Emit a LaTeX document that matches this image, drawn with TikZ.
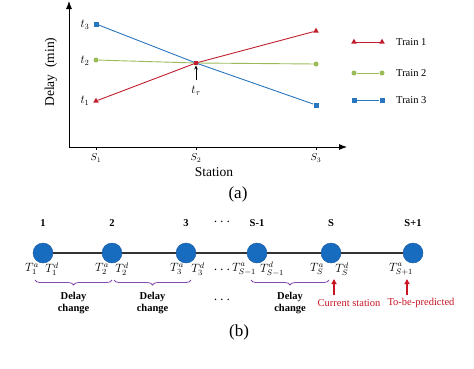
\documentclass[tikz,border=0pt]{standalone}
\usepackage{fontspec}
\setmainfont{Liberation Serif}
\usetikzlibrary{arrows.meta,shapes.geometric,decorations.pathreplacing}
\definecolor{trainRed}{RGB}{192,30,45}
\definecolor{trainGreen}{RGB}{155,187,89}
\definecolor{trainBlue}{RGB}{40,118,190}
\definecolor{stationBlue}{RGB}{24,108,192}
\definecolor{bracePurple}{RGB}{130,75,175}
\definecolor{noteRed}{RGB}{200,20,35}
\begin{document}
\begin{tikzpicture}
[x=1pt,y=-1pt,
  axisDecorate/.style={-{Latex[length=8pt,width=6pt]},line width=0.8pt},
  tickDecorate/.style={line width=0.6pt},
  redLine/.style={trainRed,line width=0.9pt},
  greenLine/.style={trainGreen,line width=0.9pt},
  blueLine/.style={trainBlue,line width=0.9pt},
  redMark/.style={shape=regular polygon,regular polygon sides=3,fill=trainRed,inner sep=0pt,minimum size=6.5pt},
  greenMark/.style={shape=circle,fill=trainGreen,inner sep=0pt,minimum size=5pt},
  blueMark/.style={shape=rectangle,fill=trainBlue,inner sep=0pt,minimum size=5pt},
  crossMark/.style={shape=rectangle,fill=trainRed,inner sep=0pt,minimum size=4.5pt},
  smallText/.style={font=\fontsize{10}{12}\selectfont,inner sep=0pt},
  axisText/.style={font=\fontsize{13.5}{15}\selectfont,inner sep=0pt},
  legendText/.style={font=\fontsize{10.5}{12}\selectfont,anchor=west,inner sep=0pt},
  partText/.style={font=\fontsize{17}{19}\selectfont,inner sep=0pt},
  nodeDecorate/.style={shape=circle,fill=stationBlue,draw=stationBlue!80!black,line width=0.4pt,minimum size=20pt,inner sep=0pt},
  numDecorate/.style={font=\fontsize{10.5}{12}\bfseries\selectfont,inner sep=0pt},
  timeDecorate/.style={font=\fontsize{12}{13}\selectfont,inner sep=0pt},
  lineDecorate/.style={-,line width=1.1pt,black!80},
  braceDecorate/.style={decorate,decoration={brace,mirror,amplitude=5pt},bracePurple,line width=0.8pt},
  changeDecorate/.style={font=\fontsize{10.5}{12}\bfseries\selectfont,align=center,inner sep=0pt},
  noteDecorate/.style={font=\fontsize{10.5}{12}\selectfont,noteRed,inner sep=0pt},
  noteArrow/.style={-{Triangle[length=5pt,width=5pt]},noteRed,line width=1.2pt},
  dotsDecorate/.style={font=\fontsize{14}{15}\bfseries\selectfont,inner sep=0pt}]
\useasboundingbox (0,0) rectangle (474,368);
%% part (a): axes
\coordinate (origin) at (69,147);
\coordinate (yEnd) at (69,1);
\coordinate (xEnd) at (347,147);
\draw[axisDecorate] (origin) -- (yEnd);
\draw[axisDecorate] (origin) -- (xEnd);
\foreach \nodename/\x/\lbl in {s1/96/1, s2/196/2, s3/316/3}
{
  \coordinate (\nodename) at (\x,147);
  \draw[tickDecorate] (\nodename) -- ++(0,3);
  \node (\nodename-lbl) at (\x,158) [smallText] {$S_{\lbl}$};
}
\node (station) at (214,172) [axisText] {Station};
\node (delay) at (51,72) [axisText,rotate=90] {Delay\ \ (min)};
%% delays at the first station
\foreach \nodename/\y/\lbl in {t3/25/3, t2/61/2, t1/101/1}
{
  \node (\nodename) at (85,\y) [smallText,font=\fontsize{11.5}{12}\selectfont] {$t_{\lbl}$};
}
%% trains
\node (r1) at (96,101) [redMark] {};
\node (r3) at (316,31) [redMark] {};
\node (g1) at (96,60) [greenMark] {};
\node (g3) at (316,64) [greenMark] {};
\node (b1) at (96,24) [blueMark] {};
\node (b3) at (316,105) [blueMark] {};
\coordinate (meet) at (196,63);
\draw[greenLine] (g1) -- (meet) -- (g3);
\draw[blueLine] (b1) -- (meet) -- (b3);
\draw[redLine] (r1) -- (meet) -- (r3);
\node (cross) at (meet) [crossMark] {};
\node (tau) at (196,91) [smallText,font=\fontsize{11.5}{12}\selectfont] {$t_\tau$};
\coordinate (tauTail) at (196,80);
\draw[-{Stealth[length=4pt,width=3.5pt]},line width=0.6pt] (tauTail) -- (cross);
%% legend
\foreach \nodename/\y/\style/\mark/\lbl in {
  legA/42/redLine/redMark/Train 1, legB/73/greenLine/greenMark/Train 2,
  legC/100/blueLine/blueMark/Train 3}
{
  \node (\nodename-l) at (354,\y) [\mark] {};
  \node (\nodename-r) at (382,\y) [\mark] {};
  \draw[\style] (\nodename-l) -- (\nodename-r);
  \node (\nodename-t) at (396,\y) [legendText] {\lbl};
}
\node (partA) at (238,194) [partText] {(a)};
%% part (b): stations
\foreach \nodename/\x/\lbl in {
  st1/43/1, st2/112/2, st3/186/3, stSm/257/S-1, stS/331/S, stSp/413/S+1}
{
  \node (\nodename) at (\x,253) [nodeDecorate] {};
  \node (\nodename-num) at (\x,223) [numDecorate] {\lbl};
}
\path
\foreach \startnode/\endnode in {
  st1/st2, st2/st3, st3/stSm, stSm/stS, stS/stSp}
{
  (\startnode) edge[lineDecorate] (\endnode)
};
%% arrival and departure times
\foreach \nodename/\x/\lbl in {
  ta1/32/{T_1^a}, td1/52/{T_1^d}, ta2/102/{T_2^a}, td2/122/{T_2^d},
  ta3/177/{T_3^a}, td3/198/{T_3^d}, taSm/244/{T_{S-1}^a}, tdSm/272/{T_{S-1}^d},
  taS/317/{T_S^a}, tdS/342/{T_S^d}, taSp/401/{T_{S+1}^a}}
{
  \node (\nodename) at (\x,269) [timeDecorate] {$\lbl$};
}
\foreach \nodename/\y in {dotsTop/222, dotsMid/270, dotsLow/300}
{
  \node (\nodename) at (222,\y) [dotsDecorate] {$\cdots$};
}
%% delay changes
\foreach \nodename/\xa/\xb in {dc1/35/112, dc2/114/191, dc3/251/329}
{
  \coordinate (\nodename-a) at (\xa,280);
  \coordinate (\nodename-b) at (\xb,280);
  \draw[braceDecorate] (\nodename-a) -- (\nodename-b);
  \node (\nodename) at ({(\xa+\xb)/2},303) [changeDecorate] {Delay\\change};
}
%% current and predicted stations
\coordinate (curTail) at (334,295);
\coordinate (curHead) at (334,279);
\coordinate (preTail) at (407,295);
\coordinate (preHead) at (407,279);
\draw[noteArrow] (curTail) -- (curHead);
\draw[noteArrow] (preTail) -- (preHead);
\node (current) at (349,303) [noteDecorate] {Current station};
\node (predicted) at (421,303) [noteDecorate] {To-be-predicted};
\node (partB) at (239,332) [partText] {(b)};
\end{tikzpicture}
\end{document}
